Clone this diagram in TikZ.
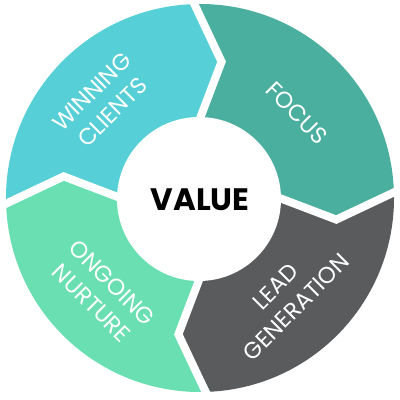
\documentclass[tikz,border=0pt]{standalone}
\usepackage{fontspec}
\setmainfont{Poppins}
\definecolor{winningcyan}{HTML}{56CFD6}
\definecolor{focusteal}{HTML}{4BAF9F}
\definecolor{leadgray}{HTML}{5A5B5D}
\definecolor{nurturegreen}{HTML}{69DFB2}
\tikzset{
  gapline/.style={draw=white,line width=8pt,line join=miter,miter limit=10},
  segmentlabel/.style={text=white,align=center,inner sep=0pt,
    font=\fontsize{23}{29}\selectfont},
  centerlabel/.style={text=black,inner sep=0pt,
    font=\fontsize{31}{36}\selectfont\bfseries}
}

\begin{document}
\begin{tikzpicture}[x=1pt,y=1pt]
  \useasboundingbox (-200,-202) rectangle (200,198);
  % four arcs of the cycle, each ending in a point
  \foreach \start/\col in {183/winningcyan,93/focusteal,3/leadgray,-87/nurturegreen}
    \fill[\col] (\start:194) arc[start angle=\start,end angle=\start-90,radius=194]
      -- (\start-102:138) -- (\start-90:70)
      arc[start angle=\start-90,end angle=\start,radius=70]
      -- (\start-12:138) -- cycle;
  \foreach \bnd in {93,3,-87,-177}
    \draw[gapline] (\bnd:205) -- (\bnd-12:138) -- (\bnd:70);
  \fill[white] (-1,-1) circle[radius=82];
  \node[centerlabel] (value) at (0,-2) {VALUE};
  \node[segmentlabel,rotate=45] (winning) at (-98,96) {WINNING\\CLIENTS};
  \node[segmentlabel,rotate=-45] (focus) at (97,85) {FOCUS};
  \node[segmentlabel,rotate=45] (lead) at (86,-99) {LEAD\\GENERATION};
  \node[segmentlabel,rotate=-45] (nurture) at (-98,-95) {ONGOING\\NURTURE};
\end{tikzpicture}
\end{document}
